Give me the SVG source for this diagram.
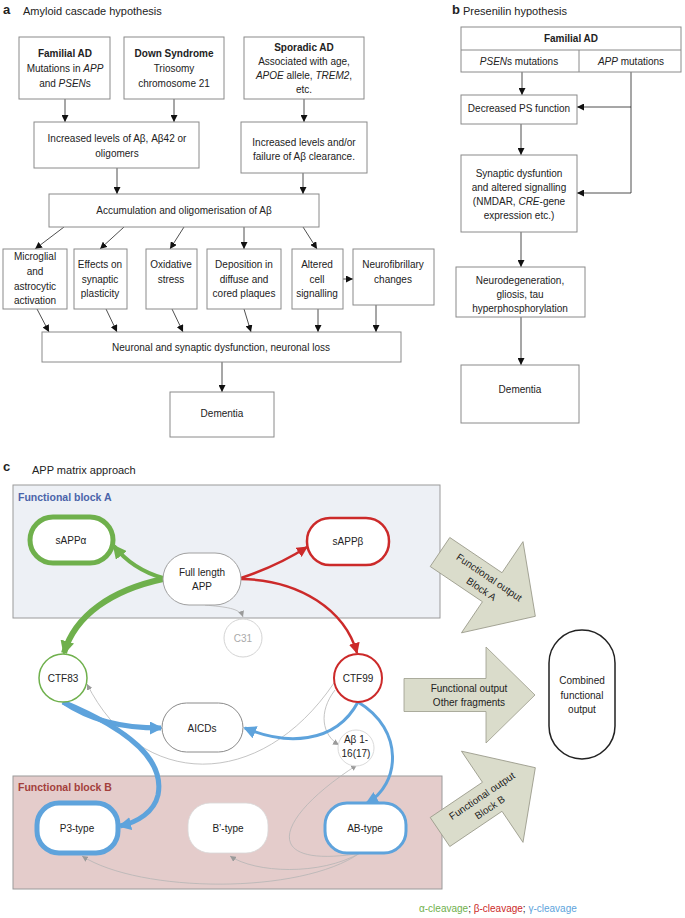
<svg xmlns="http://www.w3.org/2000/svg" width="685" height="918" viewBox="0 0 685 918">
<defs>
<style>
text{font-family:"Liberation Sans",Arial,sans-serif;font-size:10px;fill:#222}
.c{text-anchor:middle}
.b{font-weight:bold}
.i{font-style:italic}
.box{fill:#fff;stroke:#8a8a8a;stroke-width:1}
.ar{fill:none;stroke:#222;stroke-width:0.8;marker-end:url(#ma)}
.ttl{font-size:11px}
.lab{font-size:13px;font-weight:bold}
.g{fill:none;stroke:#6fb04c;marker-end:url(#mg)}
.r{fill:none;stroke:#cc2a2a;stroke-width:2.5;marker-end:url(#mr)}
.bl{fill:none;stroke:#5ea3dc;marker-end:url(#mb)}
.gr{fill:none;stroke:#b5b5b5;stroke-width:0.8;marker-end:url(#mgr)}
.fo{fill:#dadccb;stroke:#9a9a8a;stroke-width:0.8}
</style>
<marker id="ma" markerUnits="userSpaceOnUse" markerWidth="7" markerHeight="7" refX="7" refY="3.5" orient="auto"><path d="M0,0 L7,3.5 L0,7 z" fill="#111"/></marker>
<marker id="mg" markerUnits="userSpaceOnUse" markerWidth="14" markerHeight="14" refX="12" refY="7" orient="auto"><path d="M0,0 L14,7 L0,14 z" fill="#6fb04c"/></marker>
<marker id="mr" markerUnits="userSpaceOnUse" markerWidth="11" markerHeight="11" refX="10" refY="5.5" orient="auto"><path d="M0,0 L11,5.5 L0,11 z" fill="#cc2a2a"/></marker>
<marker id="mb" markerUnits="userSpaceOnUse" markerWidth="13" markerHeight="13" refX="11" refY="6.5" orient="auto"><path d="M0,0 L13,6.5 L0,13 z" fill="#5ea3dc"/></marker>
<marker id="mgr" markerUnits="userSpaceOnUse" markerWidth="6" markerHeight="6" refX="6" refY="3" orient="auto"><path d="M0,0 L6,3 L0,6 z" fill="#9a9a9a"/></marker>
</defs>
<rect width="685" height="918" fill="#fff"/>

<!-- Panel titles -->
<text x="3" y="14" class="lab">a</text>
<text x="23" y="15" class="ttl">Amyloid cascade hypothesis</text>
<text x="452" y="14" class="lab">b</text>
<text x="463" y="15" class="ttl">Presenilin hypothesis</text>
<text x="3" y="471" class="lab">c</text>
<text x="32" y="474" class="ttl">APP matrix approach</text>

<!-- Panel c background blocks -->
<g id="blockA">
<rect x="13" y="485" width="427" height="133" fill="#edf0f5" stroke="#9a9a9a" stroke-width="1"/>
<text x="18" y="501" class="b" style="fill:#4a64aa;font-size:10.5px">Functional block A</text>
</g>
<g id="blockB">
<rect x="13" y="776" width="429" height="113" fill="#e4cccb" stroke="#9a9a9a" stroke-width="1"/>
<text x="18" y="791" class="b" style="fill:#a33f3c;font-size:10.5px">Functional block B</text>
</g>

<!-- Connectors -->
<g id="connectors">
<!-- panel a -->
<path class="ar" d="M65,99 V122"/>
<path class="ar" d="M174,99 V122"/>
<path class="ar" d="M304,99 V122"/>
<path class="ar" d="M117,168 V194"/>
<path class="ar" d="M303,173 V194"/>
<path class="ar" d="M64,227 L35,249"/>
<path class="ar" d="M124,227 L100,249"/>
<path class="ar" d="M184,227 L170,249"/>
<path class="ar" d="M244,227 V249"/>
<path class="ar" d="M303,227 L317,249"/>
<path class="ar" d="M343,279 H353"/>
<path class="ar" d="M37,309 L49,332"/>
<path class="ar" d="M106,309 L117,332"/>
<path class="ar" d="M172,309 L183,332"/>
<path class="ar" d="M244,309 L251,332"/>
<path class="ar" d="M318,309 V332"/>
<path class="ar" d="M376,305 V332"/>
<path class="ar" d="M222,362 V392"/>
<!-- panel b -->
<path class="ar" d="M522,72 V95"/>
<path class="ar" d="M631,72 V193 H577"/>
<path class="ar" d="M631,107 H577"/>
<path class="ar" d="M521,124 V155"/>
<path class="ar" d="M521,232 V267"/>
<path class="ar" d="M521,317 V365"/>
<!-- panel c : grey -->
<path class="gr" d="M205,605 C225,607 240,608 243,617"/>
<path class="gr" d="M334,683 C260,792 140,790 87,684"/>
<path class="gr" d="M335,690 C318,712 322,735 339,745"/>
<path class="gr" d="M362,853 C260,870 272,820 357,765"/>
<path class="gr" d="M360,853 C320,876 255,873 230,856"/>
<path class="gr" d="M360,853 C300,895 140,893 82,856"/>
<!-- green -->
<path class="g" stroke-width="4" d="M163,578 C142,572 125,560 114,546"/>
<path class="g" stroke-width="6" d="M163,579 C112,590 75,615 64,653"/>
<!-- red -->
<path class="r" d="M241,578 C265,570 290,558 307,547"/>
<path class="r" d="M241,579 C300,580 345,610 357,653"/>
<!-- blue -->
<path class="bl" stroke-width="5" d="M63,702 C90,720 120,728 161,728"/>
<path class="bl" stroke-width="5" d="M63,702 C130,730 165,760 158,795 C154,812 138,822 120,826"/>
<path class="bl" stroke-width="3" d="M358,702 C335,745 285,745 245,728"/>
<path class="bl" stroke-width="3" d="M358,702 C405,730 400,785 367,803"/>
</g>

<!-- Panel a nodes -->
<g id="a-familial"><rect class="box" x="19" y="37" width="91" height="62"/>
<text x="65" y="57" class="c b">Familial AD</text>
<text x="65" y="72" class="c">Mutations in <tspan class="i">APP</tspan></text>
<text x="65" y="87" class="c">and <tspan class="i">PSEN</tspan>s</text></g>
<g id="a-down"><rect class="box" x="124" y="37" width="100" height="62"/>
<text x="174" y="57" class="c b">Down Syndrome</text>
<text x="174" y="72" class="c">Triosomy</text>
<text x="174" y="87" class="c">chromosome 21</text></g>
<g id="a-sporadic"><rect class="box" x="244" y="37" width="120" height="62"/>
<text x="304" y="51" class="c b">Sporadic AD</text>
<text x="304" y="65" class="c">Associated with age,</text>
<text x="304" y="79" class="c"><tspan class="i">APOE</tspan> allele, <tspan class="i">TREM2</tspan>,</text>
<text x="304" y="93" class="c">etc.</text></g>
<g id="a-increased"><rect class="box" x="34" y="122" width="165" height="46"/>
<text x="117" y="142" class="c">Increased levels of Aβ, Aβ42 or</text>
<text x="117" y="157" class="c">oligomers</text></g>
<g id="a-clearance"><rect class="box" x="241" y="122" width="126" height="51"/>
<text x="304" y="146" class="c">Increased levels and/or</text>
<text x="304" y="160" class="c">failure of Aβ clearance.</text></g>
<g id="a-accum"><rect class="box" x="49" y="194" width="270" height="33"/>
<text x="184" y="214" class="c">Accumulation and oligomerisation of Aβ</text></g>
<g id="a-microglial"><rect class="box" x="3" y="249" width="64" height="60"/>
<text x="35" y="260" class="c">Microglial</text>
<text x="35" y="275" class="c">and</text>
<text x="35" y="290" class="c">astrocytic</text>
<text x="35" y="304" class="c">activation</text></g>
<g id="a-effects"><rect class="box" x="74" y="249" width="53" height="60"/>
<text x="100" y="268" class="c">Effects on</text>
<text x="100" y="283" class="c">synaptic</text>
<text x="100" y="297" class="c">plasticity</text></g>
<g id="a-oxidative"><rect class="box" x="146" y="249" width="51" height="60"/>
<text x="171" y="268" class="c">Oxidative</text>
<text x="171" y="283" class="c">stress</text></g>
<g id="a-deposition"><rect class="box" x="207" y="249" width="74" height="60"/>
<text x="244" y="268" class="c">Deposition in</text>
<text x="244" y="283" class="c">diffuse and</text>
<text x="244" y="297" class="c">cored plaques</text></g>
<g id="a-altered"><rect class="box" x="292" y="249" width="51" height="60"/>
<text x="317" y="268" class="c">Altered</text>
<text x="317" y="283" class="c">cell</text>
<text x="317" y="297" class="c">signalling</text></g>
<g id="a-neurofib"><rect class="box" x="353" y="249" width="81" height="56"/>
<text x="393" y="268" class="c">Neurofibrillary</text>
<text x="393" y="283" class="c">changes</text></g>
<g id="a-neuronal"><rect class="box" x="42" y="332" width="359" height="30"/>
<text x="221" y="351" class="c">Neuronal and synaptic dysfunction, neuronal loss</text></g>
<g id="a-dementia"><rect class="box" x="170" y="392" width="104" height="45"/>
<text x="222" y="417" class="c">Dementia</text></g>

<!-- Panel b nodes -->
<g id="b-familial"><rect class="box" x="461" y="27" width="220" height="45"/>
<line x1="461" y1="50" x2="681" y2="50" stroke="#8a8a8a"/>
<line x1="579" y1="50" x2="579" y2="72" stroke="#8a8a8a"/>
<text x="571" y="42" class="c b">Familial AD</text>
<text x="519" y="65" class="c"><tspan class="i">PSEN</tspan>s mutations</text>
<text x="631" y="65" class="c"><tspan class="i">APP</tspan> mutations</text></g>
<g id="b-decreased"><rect class="box" x="461" y="95" width="116" height="29"/>
<text x="519" y="112" class="c">Decreased PS function</text></g>
<g id="b-synaptic"><rect class="box" x="461" y="155" width="116" height="77"/>
<text x="519" y="177" class="c">Synaptic dysfuntion</text>
<text x="519" y="191" class="c">and altered signalling</text>
<text x="519" y="205" class="c">(NMDAR, <tspan class="i">CRE</tspan>-gene</text>
<text x="519" y="219" class="c">expression etc.)</text></g>
<g id="b-neurodeg"><rect class="box" x="456" y="267" width="129" height="50"/>
<text x="520" y="284" class="c">Neurodegeneration,</text>
<text x="520" y="298" class="c">gliosis, tau</text>
<text x="520" y="312" class="c">hyperphosphorylation</text></g>
<g id="b-dementia"><rect class="box" x="461" y="365" width="118" height="58"/>
<text x="520" y="393" class="c">Dementia</text></g>

<!-- Panel c nodes -->
<g id="c-sappa"><rect x="30" y="517" width="83" height="46" rx="23" fill="#fff" stroke="#6fb04c" stroke-width="5"/>
<text x="71" y="544" class="c">sAPPα</text></g>
<g id="c-sappb"><rect x="307" y="518" width="82" height="47" rx="23" fill="#fff" stroke="#cc2a2a" stroke-width="2.5"/>
<text x="348" y="545" class="c">sAPPβ</text></g>
<g id="c-fl"><rect x="163" y="553" width="78" height="52" rx="26" fill="#fff" stroke="#a0a0a0" stroke-width="1"/>
<text x="202" y="576" class="c">Full length</text>
<text x="202" y="590" class="c">APP</text></g>
<g id="c-c31"><circle cx="243" cy="638" r="19" fill="#fff" stroke="#d4d4d4" stroke-width="1"/>
<text x="243" y="642" class="c" style="fill:#aaa">C31</text></g>
<g id="c-ctf83"><circle cx="63" cy="678" r="24" fill="#fff" stroke="#6fb04c" stroke-width="1.5"/>
<text x="63" y="682" class="c">CTF83</text></g>
<g id="c-ctf99"><circle cx="358" cy="678" r="24" fill="#fff" stroke="#cc2a2a" stroke-width="2"/>
<text x="358" y="682" class="c">CTF99</text></g>
<g id="c-aicds"><rect x="162" y="703" width="81" height="49" rx="24.5" fill="#fff" stroke="#8a8a8a" stroke-width="1"/>
<text x="202" y="732" class="c">AICDs</text></g>
<g id="c-ab116"><circle cx="356" cy="748" r="18" fill="#fff" stroke="#dadada" stroke-width="1"/>
<text x="356" y="743" class="c">Aβ 1-</text>
<text x="356" y="757" class="c">16(17)</text></g>
<g id="c-p3"><rect x="37" y="803" width="81" height="50" rx="22" fill="#fff" stroke="#5ea3dc" stroke-width="5"/>
<text x="77" y="832" class="c">P3-type</text></g>
<g id="c-bprime"><rect x="188" y="803" width="80" height="50" rx="22" fill="#fff" stroke="#d8d8d8" stroke-width="0.8"/>
<text x="228" y="832" class="c">B’-type</text></g>
<g id="c-abtype"><rect x="325" y="803" width="81" height="50" rx="22" fill="#fff" stroke="#5ea3dc" stroke-width="3"/>
<text x="365" y="832" class="c">AB-type</text></g>

<!-- Functional output arrows -->
<g id="fo-a" transform="translate(440,552) rotate(34)">
<path class="fo" d="M0,-17.5 H63 V-55 L115,0 L63,55 V17.5 H0 z"/>
<text x="55" y="-3" class="c">Functional output</text>
<text x="55" y="11" class="c">Block A</text></g>
<g id="fo-other" transform="translate(404,695)">
<path class="fo" d="M0,-16.5 H82 V-48 L131,0 L82,48 V16.5 H0 z"/>
<text x="65" y="-3" class="c">Functional output</text>
<text x="65" y="11" class="c">Other fragments</text></g>
<g id="fo-b" transform="translate(440,832) rotate(-34)">
<path class="fo" d="M0,-17.5 H63 V-55 L115,0 L63,55 V17.5 H0 z"/>
<text x="55" y="-3" class="c">Functional output</text>
<text x="55" y="11" class="c">Block B</text></g>
<g id="c-combined"><rect x="549" y="630" width="66" height="129" rx="33" fill="#fff" stroke="#222" stroke-width="1.5"/>
<text x="582" y="684" class="c">Combined</text>
<text x="582" y="699" class="c">functional</text>
<text x="582" y="713" class="c">output</text></g>

<!-- Legend -->
<text x="419" y="912"><tspan style="fill:#6fb04c">α-cleavage</tspan>; <tspan style="fill:#cc2a2a">β-cleavage</tspan>; <tspan style="fill:#5ea3dc">γ-cleavage</tspan></text>
</svg>
